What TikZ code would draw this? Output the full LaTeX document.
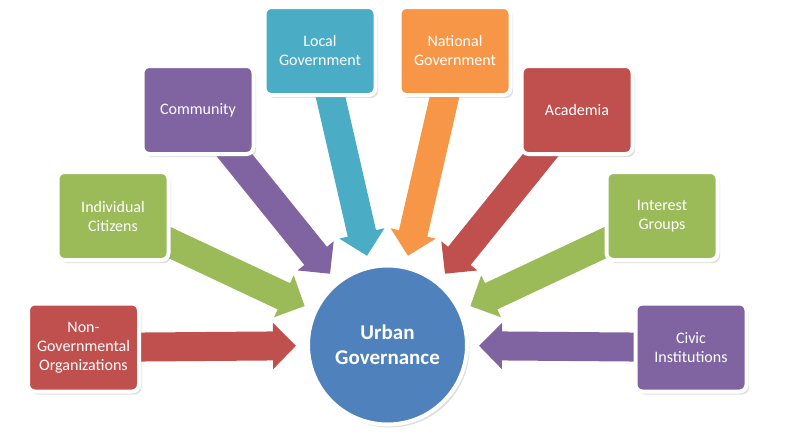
\documentclass[tikz,border=0pt]{standalone}
\usepackage{fontspec}
\setmainfont{Carlito}
\usetikzlibrary{arrows.meta,shadows,backgrounds}
\definecolor{ored}{HTML}{C0504D}
\definecolor{ogreen}{HTML}{9BBB59}
\definecolor{opurple}{HTML}{8064A2}
\definecolor{oteal}{HTML}{4BACC6}
\definecolor{oorange}{HTML}{F79646}
\definecolor{oblue}{HTML}{4F81BD}

\begin{document}
\begin{tikzpicture}[
    x=1pt, y=-1pt,
    actor/.style={rectangle, rounded corners=7pt, minimum width=111pt, minimum height=88pt, draw=white, line width=4pt, align=center, text=white, font=\fontsize{16}{19}\selectfont, drop shadow={shadow xshift=2.5pt, shadow yshift=-3pt, opacity=0.25}},
    hub/.style={circle, minimum size=159pt, draw=white, line width=4pt, fill=oblue, align=center, text=white, font=\fontsize{21}{25}\selectfont\bfseries, drop shadow={shadow xshift=2.5pt, shadow yshift=-3pt, opacity=0.25}},
    feed/.style={line width=29pt, -{Triangle[length=23pt,width=45pt]}, shorten >=10pt}
]
\useasboundingbox (0,0) rectangle (800,437);

% Centre
\node[hub] (urban) at (387.5,345) {Urban\\Governance};

% Actors, left side
\node[actor, fill=ored] (ngo) at (83.5,347.5) {Non-\\Governmental\\Organizations};
\node[actor, fill=ogreen] (citizens) at (113,216) {Individual\\Citizens};
\node[actor, fill=opurple] (community) at (198,110) {Community};
\node[actor, fill=oteal] (localgov) at (320,51) {Local\\Government};

% Actors, right side
\node[actor, fill=oorange] (natgov) at (455,51) {National\\Government};
\node[actor, fill=ored] (academia) at (577,110) {Academia};
\node[actor, fill=ogreen] (interest) at (662,216) {Interest\\Groups};
\node[actor, fill=opurple] (civic) at (691,347.5) {Civic\\Institutions};

% Block arrows towards the centre
\begin{scope}[on background layer]
\draw[feed, ored] (ngo.center) -- (urban);
\draw[feed, ogreen] (citizens.center) -- (urban);
\draw[feed, opurple] (community.center) -- (urban);
\draw[feed, oteal] (localgov.center) -- (urban);
\draw[feed, oorange] (natgov.center) -- (urban);
\draw[feed, ored] (academia.center) -- (urban);
\draw[feed, ogreen] (interest.center) -- (urban);
\draw[feed, opurple] (civic.center) -- (urban);
\end{scope}

\end{tikzpicture}
\end{document}
